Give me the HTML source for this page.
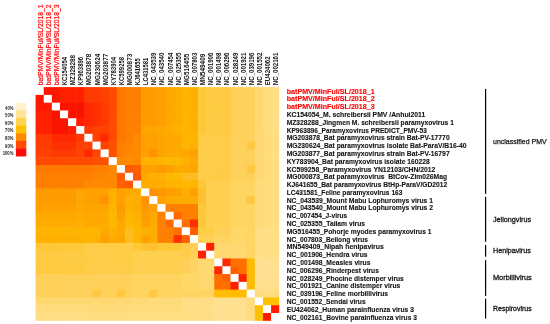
<!DOCTYPE html>
<html><head><meta charset="utf-8"><style>
html,body{margin:0;padding:0;background:#fff;}
body{width:550px;height:324px;overflow:hidden;}
svg{display:block;}
text{font-family:"Liberation Sans",sans-serif;white-space:pre;}
</style></head><body>
<svg width="550" height="324" viewBox="0 0 550 324">
<rect width="550" height="324" fill="#fff"/>

<g>
<rect x="35.60" y="87.10" width="8.72" height="8.39" fill="#FFFFFF"/>
<rect x="43.72" y="87.10" width="8.72" height="8.39" fill="#FF1400"/>
<rect x="51.84" y="87.10" width="8.72" height="8.39" fill="#FF1800"/>
<rect x="59.96" y="87.10" width="8.72" height="8.39" fill="#FF2000"/>
<rect x="68.08" y="87.10" width="8.72" height="8.39" fill="#FF2000"/>
<rect x="76.20" y="87.10" width="8.72" height="8.39" fill="#FF2000"/>
<rect x="84.32" y="87.10" width="8.72" height="8.39" fill="#FF3A00"/>
<rect x="92.44" y="87.10" width="8.72" height="8.39" fill="#FF3C00"/>
<rect x="100.56" y="87.10" width="8.72" height="8.39" fill="#FF4000"/>
<rect x="108.68" y="87.10" width="8.72" height="8.39" fill="#FF4A00"/>
<rect x="116.80" y="87.10" width="8.72" height="8.39" fill="#FF7800"/>
<rect x="124.92" y="87.10" width="8.72" height="8.39" fill="#FF8000"/>
<rect x="133.04" y="87.10" width="8.72" height="8.39" fill="#FF8000"/>
<rect x="141.16" y="87.10" width="8.72" height="8.39" fill="#FF9A00"/>
<rect x="149.28" y="87.10" width="8.72" height="8.39" fill="#FF9C00"/>
<rect x="157.40" y="87.10" width="8.72" height="8.39" fill="#FFA000"/>
<rect x="165.52" y="87.10" width="8.72" height="8.39" fill="#FFA800"/>
<rect x="173.64" y="87.10" width="8.72" height="8.39" fill="#FFAC00"/>
<rect x="181.76" y="87.10" width="8.72" height="8.39" fill="#FFB400"/>
<rect x="189.88" y="87.10" width="8.72" height="8.39" fill="#FFB000"/>
<rect x="198.00" y="87.10" width="8.72" height="8.39" fill="#FFC838"/>
<rect x="206.12" y="87.10" width="8.72" height="8.39" fill="#FFCB42"/>
<rect x="214.24" y="87.10" width="8.72" height="8.39" fill="#FFCB42"/>
<rect x="222.36" y="87.10" width="8.72" height="8.39" fill="#FFCA3E"/>
<rect x="230.48" y="87.10" width="8.72" height="8.39" fill="#FFD058"/>
<rect x="238.60" y="87.10" width="8.72" height="8.39" fill="#FFD05A"/>
<rect x="246.72" y="87.10" width="8.72" height="8.39" fill="#FFD05A"/>
<rect x="254.84" y="87.10" width="8.72" height="8.39" fill="#FFD870"/>
<rect x="262.96" y="87.10" width="8.72" height="8.39" fill="#FFDC7C"/>
<rect x="271.08" y="87.10" width="8.12" height="8.39" fill="#FFDF86"/>
<rect x="35.60" y="94.89" width="8.72" height="8.39" fill="#FF1400"/>
<rect x="43.72" y="94.89" width="8.72" height="8.39" fill="#FFFFFF"/>
<rect x="51.84" y="94.89" width="8.72" height="8.39" fill="#FF1800"/>
<rect x="59.96" y="94.89" width="8.72" height="8.39" fill="#FF2000"/>
<rect x="68.08" y="94.89" width="8.72" height="8.39" fill="#FF2000"/>
<rect x="76.20" y="94.89" width="8.72" height="8.39" fill="#FF2000"/>
<rect x="84.32" y="94.89" width="8.72" height="8.39" fill="#FF3A00"/>
<rect x="92.44" y="94.89" width="8.72" height="8.39" fill="#FF3C00"/>
<rect x="100.56" y="94.89" width="8.72" height="8.39" fill="#FF4000"/>
<rect x="108.68" y="94.89" width="8.72" height="8.39" fill="#FF4A00"/>
<rect x="116.80" y="94.89" width="8.72" height="8.39" fill="#FF7800"/>
<rect x="124.92" y="94.89" width="8.72" height="8.39" fill="#FF8000"/>
<rect x="133.04" y="94.89" width="8.72" height="8.39" fill="#FF8000"/>
<rect x="141.16" y="94.89" width="8.72" height="8.39" fill="#FF9A00"/>
<rect x="149.28" y="94.89" width="8.72" height="8.39" fill="#FF9C00"/>
<rect x="157.40" y="94.89" width="8.72" height="8.39" fill="#FFA000"/>
<rect x="165.52" y="94.89" width="8.72" height="8.39" fill="#FFA800"/>
<rect x="173.64" y="94.89" width="8.72" height="8.39" fill="#FFAC00"/>
<rect x="181.76" y="94.89" width="8.72" height="8.39" fill="#FFB400"/>
<rect x="189.88" y="94.89" width="8.72" height="8.39" fill="#FFB000"/>
<rect x="198.00" y="94.89" width="8.72" height="8.39" fill="#FFC838"/>
<rect x="206.12" y="94.89" width="8.72" height="8.39" fill="#FFCB42"/>
<rect x="214.24" y="94.89" width="8.72" height="8.39" fill="#FFCB42"/>
<rect x="222.36" y="94.89" width="8.72" height="8.39" fill="#FFCA3E"/>
<rect x="230.48" y="94.89" width="8.72" height="8.39" fill="#FFD058"/>
<rect x="238.60" y="94.89" width="8.72" height="8.39" fill="#FFD05A"/>
<rect x="246.72" y="94.89" width="8.72" height="8.39" fill="#FFD05A"/>
<rect x="254.84" y="94.89" width="8.72" height="8.39" fill="#FFD870"/>
<rect x="262.96" y="94.89" width="8.72" height="8.39" fill="#FFDC7C"/>
<rect x="271.08" y="94.89" width="8.12" height="8.39" fill="#FFDF86"/>
<rect x="35.60" y="102.68" width="8.72" height="8.39" fill="#FF1800"/>
<rect x="43.72" y="102.68" width="8.72" height="8.39" fill="#FF1800"/>
<rect x="51.84" y="102.68" width="8.72" height="8.39" fill="#FFFFFF"/>
<rect x="59.96" y="102.68" width="8.72" height="8.39" fill="#FA1400"/>
<rect x="68.08" y="102.68" width="8.72" height="8.39" fill="#FA1400"/>
<rect x="76.20" y="102.68" width="8.72" height="8.39" fill="#FA1400"/>
<rect x="84.32" y="102.68" width="8.72" height="8.39" fill="#FF2800"/>
<rect x="92.44" y="102.68" width="8.72" height="8.39" fill="#FF3000"/>
<rect x="100.56" y="102.68" width="8.72" height="8.39" fill="#FF3A00"/>
<rect x="108.68" y="102.68" width="8.72" height="8.39" fill="#FF4A00"/>
<rect x="116.80" y="102.68" width="8.72" height="8.39" fill="#FF7800"/>
<rect x="124.92" y="102.68" width="8.72" height="8.39" fill="#FF8000"/>
<rect x="133.04" y="102.68" width="8.72" height="8.39" fill="#FF8000"/>
<rect x="141.16" y="102.68" width="8.72" height="8.39" fill="#FF9A00"/>
<rect x="149.28" y="102.68" width="8.72" height="8.39" fill="#FF9C00"/>
<rect x="157.40" y="102.68" width="8.72" height="8.39" fill="#FFA000"/>
<rect x="165.52" y="102.68" width="8.72" height="8.39" fill="#FFA800"/>
<rect x="173.64" y="102.68" width="8.72" height="8.39" fill="#FFAC00"/>
<rect x="181.76" y="102.68" width="8.72" height="8.39" fill="#FFB400"/>
<rect x="189.88" y="102.68" width="8.72" height="8.39" fill="#FFB000"/>
<rect x="198.00" y="102.68" width="8.72" height="8.39" fill="#FFC838"/>
<rect x="206.12" y="102.68" width="8.72" height="8.39" fill="#FFCB42"/>
<rect x="214.24" y="102.68" width="8.72" height="8.39" fill="#FFCB42"/>
<rect x="222.36" y="102.68" width="8.72" height="8.39" fill="#FFCA3E"/>
<rect x="230.48" y="102.68" width="8.72" height="8.39" fill="#FFD058"/>
<rect x="238.60" y="102.68" width="8.72" height="8.39" fill="#FFD05A"/>
<rect x="246.72" y="102.68" width="8.72" height="8.39" fill="#FFD05A"/>
<rect x="254.84" y="102.68" width="8.72" height="8.39" fill="#FFD870"/>
<rect x="262.96" y="102.68" width="8.72" height="8.39" fill="#FFDC7C"/>
<rect x="271.08" y="102.68" width="8.12" height="8.39" fill="#FFDF86"/>
<rect x="35.60" y="110.47" width="8.72" height="8.39" fill="#FF2000"/>
<rect x="43.72" y="110.47" width="8.72" height="8.39" fill="#FF2000"/>
<rect x="51.84" y="110.47" width="8.72" height="8.39" fill="#FA1400"/>
<rect x="59.96" y="110.47" width="8.72" height="8.39" fill="#FFFFFF"/>
<rect x="68.08" y="110.47" width="8.72" height="8.39" fill="#FA1400"/>
<rect x="76.20" y="110.47" width="8.72" height="8.39" fill="#FA1400"/>
<rect x="84.32" y="110.47" width="8.72" height="8.39" fill="#FF2800"/>
<rect x="92.44" y="110.47" width="8.72" height="8.39" fill="#FF3000"/>
<rect x="100.56" y="110.47" width="8.72" height="8.39" fill="#FF3A00"/>
<rect x="108.68" y="110.47" width="8.72" height="8.39" fill="#FF4A00"/>
<rect x="116.80" y="110.47" width="8.72" height="8.39" fill="#FF7800"/>
<rect x="124.92" y="110.47" width="8.72" height="8.39" fill="#FF8000"/>
<rect x="133.04" y="110.47" width="8.72" height="8.39" fill="#FF8000"/>
<rect x="141.16" y="110.47" width="8.72" height="8.39" fill="#FF9A00"/>
<rect x="149.28" y="110.47" width="8.72" height="8.39" fill="#FF9C00"/>
<rect x="157.40" y="110.47" width="8.72" height="8.39" fill="#FFA000"/>
<rect x="165.52" y="110.47" width="8.72" height="8.39" fill="#FFA800"/>
<rect x="173.64" y="110.47" width="8.72" height="8.39" fill="#FFAC00"/>
<rect x="181.76" y="110.47" width="8.72" height="8.39" fill="#FFB400"/>
<rect x="189.88" y="110.47" width="8.72" height="8.39" fill="#FFB000"/>
<rect x="198.00" y="110.47" width="8.72" height="8.39" fill="#FFC838"/>
<rect x="206.12" y="110.47" width="8.72" height="8.39" fill="#FFCB42"/>
<rect x="214.24" y="110.47" width="8.72" height="8.39" fill="#FFCB42"/>
<rect x="222.36" y="110.47" width="8.72" height="8.39" fill="#FFCA3E"/>
<rect x="230.48" y="110.47" width="8.72" height="8.39" fill="#FFD058"/>
<rect x="238.60" y="110.47" width="8.72" height="8.39" fill="#FFD05A"/>
<rect x="246.72" y="110.47" width="8.72" height="8.39" fill="#FFD05A"/>
<rect x="254.84" y="110.47" width="8.72" height="8.39" fill="#FFD870"/>
<rect x="262.96" y="110.47" width="8.72" height="8.39" fill="#FFDC7C"/>
<rect x="271.08" y="110.47" width="8.12" height="8.39" fill="#FFDF86"/>
<rect x="35.60" y="118.26" width="8.72" height="8.39" fill="#FF2000"/>
<rect x="43.72" y="118.26" width="8.72" height="8.39" fill="#FF2000"/>
<rect x="51.84" y="118.26" width="8.72" height="8.39" fill="#FA1400"/>
<rect x="59.96" y="118.26" width="8.72" height="8.39" fill="#FA1400"/>
<rect x="68.08" y="118.26" width="8.72" height="8.39" fill="#FFFFFF"/>
<rect x="76.20" y="118.26" width="8.72" height="8.39" fill="#FF1C00"/>
<rect x="84.32" y="118.26" width="8.72" height="8.39" fill="#FF2800"/>
<rect x="92.44" y="118.26" width="8.72" height="8.39" fill="#FF3000"/>
<rect x="100.56" y="118.26" width="8.72" height="8.39" fill="#FF3A00"/>
<rect x="108.68" y="118.26" width="8.72" height="8.39" fill="#FF4A00"/>
<rect x="116.80" y="118.26" width="8.72" height="8.39" fill="#FF7800"/>
<rect x="124.92" y="118.26" width="8.72" height="8.39" fill="#FF8000"/>
<rect x="133.04" y="118.26" width="8.72" height="8.39" fill="#FF8000"/>
<rect x="141.16" y="118.26" width="8.72" height="8.39" fill="#FF9A00"/>
<rect x="149.28" y="118.26" width="8.72" height="8.39" fill="#FF9C00"/>
<rect x="157.40" y="118.26" width="8.72" height="8.39" fill="#FFA000"/>
<rect x="165.52" y="118.26" width="8.72" height="8.39" fill="#FFA800"/>
<rect x="173.64" y="118.26" width="8.72" height="8.39" fill="#FFAC00"/>
<rect x="181.76" y="118.26" width="8.72" height="8.39" fill="#FFB400"/>
<rect x="189.88" y="118.26" width="8.72" height="8.39" fill="#FFB000"/>
<rect x="198.00" y="118.26" width="8.72" height="8.39" fill="#FFC838"/>
<rect x="206.12" y="118.26" width="8.72" height="8.39" fill="#FFCB42"/>
<rect x="214.24" y="118.26" width="8.72" height="8.39" fill="#FFCB42"/>
<rect x="222.36" y="118.26" width="8.72" height="8.39" fill="#FFCA3E"/>
<rect x="230.48" y="118.26" width="8.72" height="8.39" fill="#FFD058"/>
<rect x="238.60" y="118.26" width="8.72" height="8.39" fill="#FFD05A"/>
<rect x="246.72" y="118.26" width="8.72" height="8.39" fill="#FFD05A"/>
<rect x="254.84" y="118.26" width="8.72" height="8.39" fill="#FFD870"/>
<rect x="262.96" y="118.26" width="8.72" height="8.39" fill="#FFDC7C"/>
<rect x="271.08" y="118.26" width="8.12" height="8.39" fill="#FFDF86"/>
<rect x="35.60" y="126.05" width="8.72" height="8.39" fill="#FF2000"/>
<rect x="43.72" y="126.05" width="8.72" height="8.39" fill="#FF2000"/>
<rect x="51.84" y="126.05" width="8.72" height="8.39" fill="#FA1400"/>
<rect x="59.96" y="126.05" width="8.72" height="8.39" fill="#FA1400"/>
<rect x="68.08" y="126.05" width="8.72" height="8.39" fill="#FF1C00"/>
<rect x="76.20" y="126.05" width="8.72" height="8.39" fill="#FFFFFF"/>
<rect x="84.32" y="126.05" width="8.72" height="8.39" fill="#FF3800"/>
<rect x="92.44" y="126.05" width="8.72" height="8.39" fill="#FF4000"/>
<rect x="100.56" y="126.05" width="8.72" height="8.39" fill="#FF4200"/>
<rect x="108.68" y="126.05" width="8.72" height="8.39" fill="#FF4A00"/>
<rect x="116.80" y="126.05" width="8.72" height="8.39" fill="#FF7800"/>
<rect x="124.92" y="126.05" width="8.72" height="8.39" fill="#FF8000"/>
<rect x="133.04" y="126.05" width="8.72" height="8.39" fill="#FF8000"/>
<rect x="141.16" y="126.05" width="8.72" height="8.39" fill="#FFA500"/>
<rect x="149.28" y="126.05" width="8.72" height="8.39" fill="#FFA500"/>
<rect x="157.40" y="126.05" width="8.72" height="8.39" fill="#FFA800"/>
<rect x="165.52" y="126.05" width="8.72" height="8.39" fill="#FFAC00"/>
<rect x="173.64" y="126.05" width="8.72" height="8.39" fill="#FFB000"/>
<rect x="181.76" y="126.05" width="8.72" height="8.39" fill="#FFB400"/>
<rect x="189.88" y="126.05" width="8.72" height="8.39" fill="#FFB000"/>
<rect x="198.00" y="126.05" width="8.72" height="8.39" fill="#FFC838"/>
<rect x="206.12" y="126.05" width="8.72" height="8.39" fill="#FFCB42"/>
<rect x="214.24" y="126.05" width="8.72" height="8.39" fill="#FFCB42"/>
<rect x="222.36" y="126.05" width="8.72" height="8.39" fill="#FFCA3E"/>
<rect x="230.48" y="126.05" width="8.72" height="8.39" fill="#FFD058"/>
<rect x="238.60" y="126.05" width="8.72" height="8.39" fill="#FFD05A"/>
<rect x="246.72" y="126.05" width="8.72" height="8.39" fill="#FFD05A"/>
<rect x="254.84" y="126.05" width="8.72" height="8.39" fill="#FFD870"/>
<rect x="262.96" y="126.05" width="8.72" height="8.39" fill="#FFDC7C"/>
<rect x="271.08" y="126.05" width="8.12" height="8.39" fill="#FFDF86"/>
<rect x="35.60" y="133.84" width="8.72" height="8.39" fill="#FF3A00"/>
<rect x="43.72" y="133.84" width="8.72" height="8.39" fill="#FF3A00"/>
<rect x="51.84" y="133.84" width="8.72" height="8.39" fill="#FF2800"/>
<rect x="59.96" y="133.84" width="8.72" height="8.39" fill="#FF2800"/>
<rect x="68.08" y="133.84" width="8.72" height="8.39" fill="#FF2800"/>
<rect x="76.20" y="133.84" width="8.72" height="8.39" fill="#FF3800"/>
<rect x="84.32" y="133.84" width="8.72" height="8.39" fill="#FFFFFF"/>
<rect x="92.44" y="133.84" width="8.72" height="8.39" fill="#FF4000"/>
<rect x="100.56" y="133.84" width="8.72" height="8.39" fill="#FF2800"/>
<rect x="108.68" y="133.84" width="8.72" height="8.39" fill="#FF4A00"/>
<rect x="116.80" y="133.84" width="8.72" height="8.39" fill="#FF7800"/>
<rect x="124.92" y="133.84" width="8.72" height="8.39" fill="#FF8000"/>
<rect x="133.04" y="133.84" width="8.72" height="8.39" fill="#FF8A00"/>
<rect x="141.16" y="133.84" width="8.72" height="8.39" fill="#FFA000"/>
<rect x="149.28" y="133.84" width="8.72" height="8.39" fill="#FFA000"/>
<rect x="157.40" y="133.84" width="8.72" height="8.39" fill="#FFA500"/>
<rect x="165.52" y="133.84" width="8.72" height="8.39" fill="#FFA800"/>
<rect x="173.64" y="133.84" width="8.72" height="8.39" fill="#FFAA00"/>
<rect x="181.76" y="133.84" width="8.72" height="8.39" fill="#FFB400"/>
<rect x="189.88" y="133.84" width="8.72" height="8.39" fill="#FFB400"/>
<rect x="198.00" y="133.84" width="8.72" height="8.39" fill="#FFCC48"/>
<rect x="206.12" y="133.84" width="8.72" height="8.39" fill="#FFCC48"/>
<rect x="214.24" y="133.84" width="8.72" height="8.39" fill="#FFCC48"/>
<rect x="222.36" y="133.84" width="8.72" height="8.39" fill="#FFCC48"/>
<rect x="230.48" y="133.84" width="8.72" height="8.39" fill="#FFD05A"/>
<rect x="238.60" y="133.84" width="8.72" height="8.39" fill="#FFD05A"/>
<rect x="246.72" y="133.84" width="8.72" height="8.39" fill="#FFD05A"/>
<rect x="254.84" y="133.84" width="8.72" height="8.39" fill="#FFD874"/>
<rect x="262.96" y="133.84" width="8.72" height="8.39" fill="#FFDB7A"/>
<rect x="271.08" y="133.84" width="8.12" height="8.39" fill="#FFDE82"/>
<rect x="35.60" y="141.63" width="8.72" height="8.39" fill="#FF3C00"/>
<rect x="43.72" y="141.63" width="8.72" height="8.39" fill="#FF3C00"/>
<rect x="51.84" y="141.63" width="8.72" height="8.39" fill="#FF3000"/>
<rect x="59.96" y="141.63" width="8.72" height="8.39" fill="#FF3000"/>
<rect x="68.08" y="141.63" width="8.72" height="8.39" fill="#FF3000"/>
<rect x="76.20" y="141.63" width="8.72" height="8.39" fill="#FF4000"/>
<rect x="84.32" y="141.63" width="8.72" height="8.39" fill="#FF4000"/>
<rect x="92.44" y="141.63" width="8.72" height="8.39" fill="#FFFFFF"/>
<rect x="100.56" y="141.63" width="8.72" height="8.39" fill="#FF4400"/>
<rect x="108.68" y="141.63" width="8.72" height="8.39" fill="#FF5000"/>
<rect x="116.80" y="141.63" width="8.72" height="8.39" fill="#FF8000"/>
<rect x="124.92" y="141.63" width="8.72" height="8.39" fill="#FF8500"/>
<rect x="133.04" y="141.63" width="8.72" height="8.39" fill="#FF8A00"/>
<rect x="141.16" y="141.63" width="8.72" height="8.39" fill="#FFA000"/>
<rect x="149.28" y="141.63" width="8.72" height="8.39" fill="#FFA000"/>
<rect x="157.40" y="141.63" width="8.72" height="8.39" fill="#FFA500"/>
<rect x="165.52" y="141.63" width="8.72" height="8.39" fill="#FFA800"/>
<rect x="173.64" y="141.63" width="8.72" height="8.39" fill="#FFAA00"/>
<rect x="181.76" y="141.63" width="8.72" height="8.39" fill="#FFB400"/>
<rect x="189.88" y="141.63" width="8.72" height="8.39" fill="#FFB000"/>
<rect x="198.00" y="141.63" width="8.72" height="8.39" fill="#FFCC48"/>
<rect x="206.12" y="141.63" width="8.72" height="8.39" fill="#FFCC48"/>
<rect x="214.24" y="141.63" width="8.72" height="8.39" fill="#FFCC48"/>
<rect x="222.36" y="141.63" width="8.72" height="8.39" fill="#FFCC48"/>
<rect x="230.48" y="141.63" width="8.72" height="8.39" fill="#FFD05A"/>
<rect x="238.60" y="141.63" width="8.72" height="8.39" fill="#FFD05A"/>
<rect x="246.72" y="141.63" width="8.72" height="8.39" fill="#FFC840"/>
<rect x="254.84" y="141.63" width="8.72" height="8.39" fill="#FFD874"/>
<rect x="262.96" y="141.63" width="8.72" height="8.39" fill="#FFDB7A"/>
<rect x="271.08" y="141.63" width="8.12" height="8.39" fill="#FFDE82"/>
<rect x="35.60" y="149.42" width="8.72" height="8.39" fill="#FF4000"/>
<rect x="43.72" y="149.42" width="8.72" height="8.39" fill="#FF4000"/>
<rect x="51.84" y="149.42" width="8.72" height="8.39" fill="#FF3A00"/>
<rect x="59.96" y="149.42" width="8.72" height="8.39" fill="#FF3A00"/>
<rect x="68.08" y="149.42" width="8.72" height="8.39" fill="#FF3A00"/>
<rect x="76.20" y="149.42" width="8.72" height="8.39" fill="#FF4200"/>
<rect x="84.32" y="149.42" width="8.72" height="8.39" fill="#FF2800"/>
<rect x="92.44" y="149.42" width="8.72" height="8.39" fill="#FF4400"/>
<rect x="100.56" y="149.42" width="8.72" height="8.39" fill="#FFFFFF"/>
<rect x="108.68" y="149.42" width="8.72" height="8.39" fill="#FF5000"/>
<rect x="116.80" y="149.42" width="8.72" height="8.39" fill="#FF8000"/>
<rect x="124.92" y="149.42" width="8.72" height="8.39" fill="#FF8800"/>
<rect x="133.04" y="149.42" width="8.72" height="8.39" fill="#FF8A00"/>
<rect x="141.16" y="149.42" width="8.72" height="8.39" fill="#FFA000"/>
<rect x="149.28" y="149.42" width="8.72" height="8.39" fill="#FF9000"/>
<rect x="157.40" y="149.42" width="8.72" height="8.39" fill="#FFA500"/>
<rect x="165.52" y="149.42" width="8.72" height="8.39" fill="#FFA800"/>
<rect x="173.64" y="149.42" width="8.72" height="8.39" fill="#FFAA00"/>
<rect x="181.76" y="149.42" width="8.72" height="8.39" fill="#FFA800"/>
<rect x="189.88" y="149.42" width="8.72" height="8.39" fill="#FFA000"/>
<rect x="198.00" y="149.42" width="8.72" height="8.39" fill="#FFCC48"/>
<rect x="206.12" y="149.42" width="8.72" height="8.39" fill="#FFCC48"/>
<rect x="214.24" y="149.42" width="8.72" height="8.39" fill="#FFCC48"/>
<rect x="222.36" y="149.42" width="8.72" height="8.39" fill="#FFCC48"/>
<rect x="230.48" y="149.42" width="8.72" height="8.39" fill="#FFD05A"/>
<rect x="238.60" y="149.42" width="8.72" height="8.39" fill="#FFD05A"/>
<rect x="246.72" y="149.42" width="8.72" height="8.39" fill="#FFD05A"/>
<rect x="254.84" y="149.42" width="8.72" height="8.39" fill="#FFD874"/>
<rect x="262.96" y="149.42" width="8.72" height="8.39" fill="#FFDB7A"/>
<rect x="271.08" y="149.42" width="8.12" height="8.39" fill="#FFDE82"/>
<rect x="35.60" y="157.21" width="8.72" height="8.39" fill="#FF4A00"/>
<rect x="43.72" y="157.21" width="8.72" height="8.39" fill="#FF4A00"/>
<rect x="51.84" y="157.21" width="8.72" height="8.39" fill="#FF4A00"/>
<rect x="59.96" y="157.21" width="8.72" height="8.39" fill="#FF4A00"/>
<rect x="68.08" y="157.21" width="8.72" height="8.39" fill="#FF4A00"/>
<rect x="76.20" y="157.21" width="8.72" height="8.39" fill="#FF4A00"/>
<rect x="84.32" y="157.21" width="8.72" height="8.39" fill="#FF4A00"/>
<rect x="92.44" y="157.21" width="8.72" height="8.39" fill="#FF5000"/>
<rect x="100.56" y="157.21" width="8.72" height="8.39" fill="#FF5000"/>
<rect x="108.68" y="157.21" width="8.72" height="8.39" fill="#FFFFFF"/>
<rect x="116.80" y="157.21" width="8.72" height="8.39" fill="#FF8800"/>
<rect x="124.92" y="157.21" width="8.72" height="8.39" fill="#FF8C00"/>
<rect x="133.04" y="157.21" width="8.72" height="8.39" fill="#FF8A00"/>
<rect x="141.16" y="157.21" width="8.72" height="8.39" fill="#FFB000"/>
<rect x="149.28" y="157.21" width="8.72" height="8.39" fill="#FFB000"/>
<rect x="157.40" y="157.21" width="8.72" height="8.39" fill="#FFB500"/>
<rect x="165.52" y="157.21" width="8.72" height="8.39" fill="#FFB800"/>
<rect x="173.64" y="157.21" width="8.72" height="8.39" fill="#FFB800"/>
<rect x="181.76" y="157.21" width="8.72" height="8.39" fill="#FFB000"/>
<rect x="189.88" y="157.21" width="8.72" height="8.39" fill="#FFAA00"/>
<rect x="198.00" y="157.21" width="8.72" height="8.39" fill="#FFCC48"/>
<rect x="206.12" y="157.21" width="8.72" height="8.39" fill="#FFCC48"/>
<rect x="214.24" y="157.21" width="8.72" height="8.39" fill="#FFCC48"/>
<rect x="222.36" y="157.21" width="8.72" height="8.39" fill="#FFCC48"/>
<rect x="230.48" y="157.21" width="8.72" height="8.39" fill="#FFD05A"/>
<rect x="238.60" y="157.21" width="8.72" height="8.39" fill="#FFD05A"/>
<rect x="246.72" y="157.21" width="8.72" height="8.39" fill="#FFD05A"/>
<rect x="254.84" y="157.21" width="8.72" height="8.39" fill="#FFD874"/>
<rect x="262.96" y="157.21" width="8.72" height="8.39" fill="#FFDB7A"/>
<rect x="271.08" y="157.21" width="8.12" height="8.39" fill="#FFDE82"/>
<rect x="35.60" y="165.00" width="8.72" height="8.39" fill="#FF7800"/>
<rect x="43.72" y="165.00" width="8.72" height="8.39" fill="#FF7800"/>
<rect x="51.84" y="165.00" width="8.72" height="8.39" fill="#FF7800"/>
<rect x="59.96" y="165.00" width="8.72" height="8.39" fill="#FF7800"/>
<rect x="68.08" y="165.00" width="8.72" height="8.39" fill="#FF7800"/>
<rect x="76.20" y="165.00" width="8.72" height="8.39" fill="#FF7800"/>
<rect x="84.32" y="165.00" width="8.72" height="8.39" fill="#FF7800"/>
<rect x="92.44" y="165.00" width="8.72" height="8.39" fill="#FF8000"/>
<rect x="100.56" y="165.00" width="8.72" height="8.39" fill="#FF8000"/>
<rect x="108.68" y="165.00" width="8.72" height="8.39" fill="#FF8800"/>
<rect x="116.80" y="165.00" width="8.72" height="8.39" fill="#FFFFFF"/>
<rect x="124.92" y="165.00" width="8.72" height="8.39" fill="#FF5A00"/>
<rect x="133.04" y="165.00" width="8.72" height="8.39" fill="#FF6000"/>
<rect x="141.16" y="165.00" width="8.72" height="8.39" fill="#FFA000"/>
<rect x="149.28" y="165.00" width="8.72" height="8.39" fill="#FFA000"/>
<rect x="157.40" y="165.00" width="8.72" height="8.39" fill="#FF9A00"/>
<rect x="165.52" y="165.00" width="8.72" height="8.39" fill="#FFA000"/>
<rect x="173.64" y="165.00" width="8.72" height="8.39" fill="#FFA800"/>
<rect x="181.76" y="165.00" width="8.72" height="8.39" fill="#FFAA00"/>
<rect x="189.88" y="165.00" width="8.72" height="8.39" fill="#FFA500"/>
<rect x="198.00" y="165.00" width="8.72" height="8.39" fill="#FFCC48"/>
<rect x="206.12" y="165.00" width="8.72" height="8.39" fill="#FFCC48"/>
<rect x="214.24" y="165.00" width="8.72" height="8.39" fill="#FFCC48"/>
<rect x="222.36" y="165.00" width="8.72" height="8.39" fill="#FFCC48"/>
<rect x="230.48" y="165.00" width="8.72" height="8.39" fill="#FFD05A"/>
<rect x="238.60" y="165.00" width="8.72" height="8.39" fill="#FFD05A"/>
<rect x="246.72" y="165.00" width="8.72" height="8.39" fill="#FFC840"/>
<rect x="254.84" y="165.00" width="8.72" height="8.39" fill="#FFD874"/>
<rect x="262.96" y="165.00" width="8.72" height="8.39" fill="#FFDB7A"/>
<rect x="271.08" y="165.00" width="8.12" height="8.39" fill="#FFDE82"/>
<rect x="35.60" y="172.79" width="8.72" height="8.39" fill="#FF8000"/>
<rect x="43.72" y="172.79" width="8.72" height="8.39" fill="#FF8000"/>
<rect x="51.84" y="172.79" width="8.72" height="8.39" fill="#FF8000"/>
<rect x="59.96" y="172.79" width="8.72" height="8.39" fill="#FF8000"/>
<rect x="68.08" y="172.79" width="8.72" height="8.39" fill="#FF8000"/>
<rect x="76.20" y="172.79" width="8.72" height="8.39" fill="#FF8000"/>
<rect x="84.32" y="172.79" width="8.72" height="8.39" fill="#FF8000"/>
<rect x="92.44" y="172.79" width="8.72" height="8.39" fill="#FF8500"/>
<rect x="100.56" y="172.79" width="8.72" height="8.39" fill="#FF8800"/>
<rect x="108.68" y="172.79" width="8.72" height="8.39" fill="#FF8C00"/>
<rect x="116.80" y="172.79" width="8.72" height="8.39" fill="#FF5A00"/>
<rect x="124.92" y="172.79" width="8.72" height="8.39" fill="#FFFFFF"/>
<rect x="133.04" y="172.79" width="8.72" height="8.39" fill="#FF5800"/>
<rect x="141.16" y="172.79" width="8.72" height="8.39" fill="#FFA800"/>
<rect x="149.28" y="172.79" width="8.72" height="8.39" fill="#FFB000"/>
<rect x="157.40" y="172.79" width="8.72" height="8.39" fill="#FFB000"/>
<rect x="165.52" y="172.79" width="8.72" height="8.39" fill="#FFB800"/>
<rect x="173.64" y="172.79" width="8.72" height="8.39" fill="#FFBA00"/>
<rect x="181.76" y="172.79" width="8.72" height="8.39" fill="#FFBC20"/>
<rect x="189.88" y="172.79" width="8.72" height="8.39" fill="#FFBC20"/>
<rect x="198.00" y="172.79" width="8.72" height="8.39" fill="#FFCC48"/>
<rect x="206.12" y="172.79" width="8.72" height="8.39" fill="#FFCC48"/>
<rect x="214.24" y="172.79" width="8.72" height="8.39" fill="#FFCC48"/>
<rect x="222.36" y="172.79" width="8.72" height="8.39" fill="#FFCC48"/>
<rect x="230.48" y="172.79" width="8.72" height="8.39" fill="#FFD05A"/>
<rect x="238.60" y="172.79" width="8.72" height="8.39" fill="#FFD05A"/>
<rect x="246.72" y="172.79" width="8.72" height="8.39" fill="#FFD05A"/>
<rect x="254.84" y="172.79" width="8.72" height="8.39" fill="#FFD874"/>
<rect x="262.96" y="172.79" width="8.72" height="8.39" fill="#FFDB7A"/>
<rect x="271.08" y="172.79" width="8.12" height="8.39" fill="#FFDE82"/>
<rect x="35.60" y="180.58" width="8.72" height="8.39" fill="#FF8000"/>
<rect x="43.72" y="180.58" width="8.72" height="8.39" fill="#FF8000"/>
<rect x="51.84" y="180.58" width="8.72" height="8.39" fill="#FF8000"/>
<rect x="59.96" y="180.58" width="8.72" height="8.39" fill="#FF8000"/>
<rect x="68.08" y="180.58" width="8.72" height="8.39" fill="#FF8000"/>
<rect x="76.20" y="180.58" width="8.72" height="8.39" fill="#FF8000"/>
<rect x="84.32" y="180.58" width="8.72" height="8.39" fill="#FF8A00"/>
<rect x="92.44" y="180.58" width="8.72" height="8.39" fill="#FF8A00"/>
<rect x="100.56" y="180.58" width="8.72" height="8.39" fill="#FF8A00"/>
<rect x="108.68" y="180.58" width="8.72" height="8.39" fill="#FF8A00"/>
<rect x="116.80" y="180.58" width="8.72" height="8.39" fill="#FF6000"/>
<rect x="124.92" y="180.58" width="8.72" height="8.39" fill="#FF5800"/>
<rect x="133.04" y="180.58" width="8.72" height="8.39" fill="#FFFFFF"/>
<rect x="141.16" y="180.58" width="8.72" height="8.39" fill="#FFAC00"/>
<rect x="149.28" y="180.58" width="8.72" height="8.39" fill="#FFAC00"/>
<rect x="157.40" y="180.58" width="8.72" height="8.39" fill="#FFAC00"/>
<rect x="165.52" y="180.58" width="8.72" height="8.39" fill="#FFB000"/>
<rect x="173.64" y="180.58" width="8.72" height="8.39" fill="#FFB400"/>
<rect x="181.76" y="180.58" width="8.72" height="8.39" fill="#FFB800"/>
<rect x="189.88" y="180.58" width="8.72" height="8.39" fill="#FFB400"/>
<rect x="198.00" y="180.58" width="8.72" height="8.39" fill="#FFC838"/>
<rect x="206.12" y="180.58" width="8.72" height="8.39" fill="#FFD050"/>
<rect x="214.24" y="180.58" width="8.72" height="8.39" fill="#FFD050"/>
<rect x="222.36" y="180.58" width="8.72" height="8.39" fill="#FFD050"/>
<rect x="230.48" y="180.58" width="8.72" height="8.39" fill="#FFD460"/>
<rect x="238.60" y="180.58" width="8.72" height="8.39" fill="#FFD460"/>
<rect x="246.72" y="180.58" width="8.72" height="8.39" fill="#FFD460"/>
<rect x="254.84" y="180.58" width="8.72" height="8.39" fill="#FFDA78"/>
<rect x="262.96" y="180.58" width="8.72" height="8.39" fill="#FFDC7C"/>
<rect x="271.08" y="180.58" width="8.12" height="8.39" fill="#FFDE82"/>
<rect x="35.60" y="188.37" width="8.72" height="8.39" fill="#FF9A00"/>
<rect x="43.72" y="188.37" width="8.72" height="8.39" fill="#FF9A00"/>
<rect x="51.84" y="188.37" width="8.72" height="8.39" fill="#FF9A00"/>
<rect x="59.96" y="188.37" width="8.72" height="8.39" fill="#FF9A00"/>
<rect x="68.08" y="188.37" width="8.72" height="8.39" fill="#FF9A00"/>
<rect x="76.20" y="188.37" width="8.72" height="8.39" fill="#FFA500"/>
<rect x="84.32" y="188.37" width="8.72" height="8.39" fill="#FFA000"/>
<rect x="92.44" y="188.37" width="8.72" height="8.39" fill="#FFA000"/>
<rect x="100.56" y="188.37" width="8.72" height="8.39" fill="#FFA000"/>
<rect x="108.68" y="188.37" width="8.72" height="8.39" fill="#FFB000"/>
<rect x="116.80" y="188.37" width="8.72" height="8.39" fill="#FFA000"/>
<rect x="124.92" y="188.37" width="8.72" height="8.39" fill="#FFA800"/>
<rect x="133.04" y="188.37" width="8.72" height="8.39" fill="#FFAC00"/>
<rect x="141.16" y="188.37" width="8.72" height="8.39" fill="#FFFFFF"/>
<rect x="149.28" y="188.37" width="8.72" height="8.39" fill="#FF9000"/>
<rect x="157.40" y="188.37" width="8.72" height="8.39" fill="#FF9800"/>
<rect x="165.52" y="188.37" width="8.72" height="8.39" fill="#FF9C00"/>
<rect x="173.64" y="188.37" width="8.72" height="8.39" fill="#FFA000"/>
<rect x="181.76" y="188.37" width="8.72" height="8.39" fill="#FFB000"/>
<rect x="189.88" y="188.37" width="8.72" height="8.39" fill="#FFA000"/>
<rect x="198.00" y="188.37" width="8.72" height="8.39" fill="#FFC030"/>
<rect x="206.12" y="188.37" width="8.72" height="8.39" fill="#FFD050"/>
<rect x="214.24" y="188.37" width="8.72" height="8.39" fill="#FFD050"/>
<rect x="222.36" y="188.37" width="8.72" height="8.39" fill="#FFD050"/>
<rect x="230.48" y="188.37" width="8.72" height="8.39" fill="#FFD460"/>
<rect x="238.60" y="188.37" width="8.72" height="8.39" fill="#FFD460"/>
<rect x="246.72" y="188.37" width="8.72" height="8.39" fill="#FFD460"/>
<rect x="254.84" y="188.37" width="8.72" height="8.39" fill="#FFDA78"/>
<rect x="262.96" y="188.37" width="8.72" height="8.39" fill="#FFDC7C"/>
<rect x="271.08" y="188.37" width="8.12" height="8.39" fill="#FFDE82"/>
<rect x="35.60" y="196.16" width="8.72" height="8.39" fill="#FF9C00"/>
<rect x="43.72" y="196.16" width="8.72" height="8.39" fill="#FF9C00"/>
<rect x="51.84" y="196.16" width="8.72" height="8.39" fill="#FF9C00"/>
<rect x="59.96" y="196.16" width="8.72" height="8.39" fill="#FF9C00"/>
<rect x="68.08" y="196.16" width="8.72" height="8.39" fill="#FF9C00"/>
<rect x="76.20" y="196.16" width="8.72" height="8.39" fill="#FFA500"/>
<rect x="84.32" y="196.16" width="8.72" height="8.39" fill="#FFA000"/>
<rect x="92.44" y="196.16" width="8.72" height="8.39" fill="#FFA000"/>
<rect x="100.56" y="196.16" width="8.72" height="8.39" fill="#FF9000"/>
<rect x="108.68" y="196.16" width="8.72" height="8.39" fill="#FFB000"/>
<rect x="116.80" y="196.16" width="8.72" height="8.39" fill="#FFA000"/>
<rect x="124.92" y="196.16" width="8.72" height="8.39" fill="#FFB000"/>
<rect x="133.04" y="196.16" width="8.72" height="8.39" fill="#FFAC00"/>
<rect x="141.16" y="196.16" width="8.72" height="8.39" fill="#FF9000"/>
<rect x="149.28" y="196.16" width="8.72" height="8.39" fill="#FFFFFF"/>
<rect x="157.40" y="196.16" width="8.72" height="8.39" fill="#FFA000"/>
<rect x="165.52" y="196.16" width="8.72" height="8.39" fill="#FFA800"/>
<rect x="173.64" y="196.16" width="8.72" height="8.39" fill="#FFAC00"/>
<rect x="181.76" y="196.16" width="8.72" height="8.39" fill="#FFAC00"/>
<rect x="189.88" y="196.16" width="8.72" height="8.39" fill="#FFAC00"/>
<rect x="198.00" y="196.16" width="8.72" height="8.39" fill="#FFC030"/>
<rect x="206.12" y="196.16" width="8.72" height="8.39" fill="#FFD050"/>
<rect x="214.24" y="196.16" width="8.72" height="8.39" fill="#FFD050"/>
<rect x="222.36" y="196.16" width="8.72" height="8.39" fill="#FFD050"/>
<rect x="230.48" y="196.16" width="8.72" height="8.39" fill="#FFD460"/>
<rect x="238.60" y="196.16" width="8.72" height="8.39" fill="#FFD460"/>
<rect x="246.72" y="196.16" width="8.72" height="8.39" fill="#FFC840"/>
<rect x="254.84" y="196.16" width="8.72" height="8.39" fill="#FFDA78"/>
<rect x="262.96" y="196.16" width="8.72" height="8.39" fill="#FFDC7C"/>
<rect x="271.08" y="196.16" width="8.12" height="8.39" fill="#FFDE82"/>
<rect x="35.60" y="203.95" width="8.72" height="8.39" fill="#FFA000"/>
<rect x="43.72" y="203.95" width="8.72" height="8.39" fill="#FFA000"/>
<rect x="51.84" y="203.95" width="8.72" height="8.39" fill="#FFA000"/>
<rect x="59.96" y="203.95" width="8.72" height="8.39" fill="#FFA000"/>
<rect x="68.08" y="203.95" width="8.72" height="8.39" fill="#FFA000"/>
<rect x="76.20" y="203.95" width="8.72" height="8.39" fill="#FFA800"/>
<rect x="84.32" y="203.95" width="8.72" height="8.39" fill="#FFA500"/>
<rect x="92.44" y="203.95" width="8.72" height="8.39" fill="#FFA500"/>
<rect x="100.56" y="203.95" width="8.72" height="8.39" fill="#FFA500"/>
<rect x="108.68" y="203.95" width="8.72" height="8.39" fill="#FFB500"/>
<rect x="116.80" y="203.95" width="8.72" height="8.39" fill="#FF9A00"/>
<rect x="124.92" y="203.95" width="8.72" height="8.39" fill="#FFB000"/>
<rect x="133.04" y="203.95" width="8.72" height="8.39" fill="#FFAC00"/>
<rect x="141.16" y="203.95" width="8.72" height="8.39" fill="#FF9800"/>
<rect x="149.28" y="203.95" width="8.72" height="8.39" fill="#FFA000"/>
<rect x="157.40" y="203.95" width="8.72" height="8.39" fill="#FFFFFF"/>
<rect x="165.52" y="203.95" width="8.72" height="8.39" fill="#FF8000"/>
<rect x="173.64" y="203.95" width="8.72" height="8.39" fill="#FF8000"/>
<rect x="181.76" y="203.95" width="8.72" height="8.39" fill="#FF8000"/>
<rect x="189.88" y="203.95" width="8.72" height="8.39" fill="#FF8000"/>
<rect x="198.00" y="203.95" width="8.72" height="8.39" fill="#FFC838"/>
<rect x="206.12" y="203.95" width="8.72" height="8.39" fill="#FFD050"/>
<rect x="214.24" y="203.95" width="8.72" height="8.39" fill="#FFD050"/>
<rect x="222.36" y="203.95" width="8.72" height="8.39" fill="#FFD050"/>
<rect x="230.48" y="203.95" width="8.72" height="8.39" fill="#FFD460"/>
<rect x="238.60" y="203.95" width="8.72" height="8.39" fill="#FFD460"/>
<rect x="246.72" y="203.95" width="8.72" height="8.39" fill="#FFD460"/>
<rect x="254.84" y="203.95" width="8.72" height="8.39" fill="#FFDA78"/>
<rect x="262.96" y="203.95" width="8.72" height="8.39" fill="#FFDC7C"/>
<rect x="271.08" y="203.95" width="8.12" height="8.39" fill="#FFDE82"/>
<rect x="35.60" y="211.74" width="8.72" height="8.39" fill="#FFA800"/>
<rect x="43.72" y="211.74" width="8.72" height="8.39" fill="#FFA800"/>
<rect x="51.84" y="211.74" width="8.72" height="8.39" fill="#FFA800"/>
<rect x="59.96" y="211.74" width="8.72" height="8.39" fill="#FFA800"/>
<rect x="68.08" y="211.74" width="8.72" height="8.39" fill="#FFA800"/>
<rect x="76.20" y="211.74" width="8.72" height="8.39" fill="#FFAC00"/>
<rect x="84.32" y="211.74" width="8.72" height="8.39" fill="#FFA800"/>
<rect x="92.44" y="211.74" width="8.72" height="8.39" fill="#FFA800"/>
<rect x="100.56" y="211.74" width="8.72" height="8.39" fill="#FFA800"/>
<rect x="108.68" y="211.74" width="8.72" height="8.39" fill="#FFB800"/>
<rect x="116.80" y="211.74" width="8.72" height="8.39" fill="#FFA000"/>
<rect x="124.92" y="211.74" width="8.72" height="8.39" fill="#FFB800"/>
<rect x="133.04" y="211.74" width="8.72" height="8.39" fill="#FFB000"/>
<rect x="141.16" y="211.74" width="8.72" height="8.39" fill="#FF9C00"/>
<rect x="149.28" y="211.74" width="8.72" height="8.39" fill="#FFA800"/>
<rect x="157.40" y="211.74" width="8.72" height="8.39" fill="#FF8000"/>
<rect x="165.52" y="211.74" width="8.72" height="8.39" fill="#FFFFFF"/>
<rect x="173.64" y="211.74" width="8.72" height="8.39" fill="#FF6A00"/>
<rect x="181.76" y="211.74" width="8.72" height="8.39" fill="#FF8000"/>
<rect x="189.88" y="211.74" width="8.72" height="8.39" fill="#FF8000"/>
<rect x="198.00" y="211.74" width="8.72" height="8.39" fill="#FFC838"/>
<rect x="206.12" y="211.74" width="8.72" height="8.39" fill="#FFD050"/>
<rect x="214.24" y="211.74" width="8.72" height="8.39" fill="#FFD050"/>
<rect x="222.36" y="211.74" width="8.72" height="8.39" fill="#FFD050"/>
<rect x="230.48" y="211.74" width="8.72" height="8.39" fill="#FFD460"/>
<rect x="238.60" y="211.74" width="8.72" height="8.39" fill="#FFD460"/>
<rect x="246.72" y="211.74" width="8.72" height="8.39" fill="#FFD460"/>
<rect x="254.84" y="211.74" width="8.72" height="8.39" fill="#FFDA78"/>
<rect x="262.96" y="211.74" width="8.72" height="8.39" fill="#FFDC7C"/>
<rect x="271.08" y="211.74" width="8.12" height="8.39" fill="#FFDE82"/>
<rect x="35.60" y="219.53" width="8.72" height="8.39" fill="#FFAC00"/>
<rect x="43.72" y="219.53" width="8.72" height="8.39" fill="#FFAC00"/>
<rect x="51.84" y="219.53" width="8.72" height="8.39" fill="#FFAC00"/>
<rect x="59.96" y="219.53" width="8.72" height="8.39" fill="#FFAC00"/>
<rect x="68.08" y="219.53" width="8.72" height="8.39" fill="#FFAC00"/>
<rect x="76.20" y="219.53" width="8.72" height="8.39" fill="#FFB000"/>
<rect x="84.32" y="219.53" width="8.72" height="8.39" fill="#FFAA00"/>
<rect x="92.44" y="219.53" width="8.72" height="8.39" fill="#FFAA00"/>
<rect x="100.56" y="219.53" width="8.72" height="8.39" fill="#FFAA00"/>
<rect x="108.68" y="219.53" width="8.72" height="8.39" fill="#FFB800"/>
<rect x="116.80" y="219.53" width="8.72" height="8.39" fill="#FFA800"/>
<rect x="124.92" y="219.53" width="8.72" height="8.39" fill="#FFBA00"/>
<rect x="133.04" y="219.53" width="8.72" height="8.39" fill="#FFB400"/>
<rect x="141.16" y="219.53" width="8.72" height="8.39" fill="#FFA000"/>
<rect x="149.28" y="219.53" width="8.72" height="8.39" fill="#FFAC00"/>
<rect x="157.40" y="219.53" width="8.72" height="8.39" fill="#FF8000"/>
<rect x="165.52" y="219.53" width="8.72" height="8.39" fill="#FF6A00"/>
<rect x="173.64" y="219.53" width="8.72" height="8.39" fill="#FFFFFF"/>
<rect x="181.76" y="219.53" width="8.72" height="8.39" fill="#FF7000"/>
<rect x="189.88" y="219.53" width="8.72" height="8.39" fill="#FF3000"/>
<rect x="198.00" y="219.53" width="8.72" height="8.39" fill="#FFC838"/>
<rect x="206.12" y="219.53" width="8.72" height="8.39" fill="#FFD050"/>
<rect x="214.24" y="219.53" width="8.72" height="8.39" fill="#FFD050"/>
<rect x="222.36" y="219.53" width="8.72" height="8.39" fill="#FFD050"/>
<rect x="230.48" y="219.53" width="8.72" height="8.39" fill="#FFD460"/>
<rect x="238.60" y="219.53" width="8.72" height="8.39" fill="#FFD460"/>
<rect x="246.72" y="219.53" width="8.72" height="8.39" fill="#FFD460"/>
<rect x="254.84" y="219.53" width="8.72" height="8.39" fill="#FFDA78"/>
<rect x="262.96" y="219.53" width="8.72" height="8.39" fill="#FFDC7C"/>
<rect x="271.08" y="219.53" width="8.12" height="8.39" fill="#FFDE82"/>
<rect x="35.60" y="227.32" width="8.72" height="8.39" fill="#FFB400"/>
<rect x="43.72" y="227.32" width="8.72" height="8.39" fill="#FFB400"/>
<rect x="51.84" y="227.32" width="8.72" height="8.39" fill="#FFB400"/>
<rect x="59.96" y="227.32" width="8.72" height="8.39" fill="#FFB400"/>
<rect x="68.08" y="227.32" width="8.72" height="8.39" fill="#FFB400"/>
<rect x="76.20" y="227.32" width="8.72" height="8.39" fill="#FFB400"/>
<rect x="84.32" y="227.32" width="8.72" height="8.39" fill="#FFB400"/>
<rect x="92.44" y="227.32" width="8.72" height="8.39" fill="#FFB400"/>
<rect x="100.56" y="227.32" width="8.72" height="8.39" fill="#FFA800"/>
<rect x="108.68" y="227.32" width="8.72" height="8.39" fill="#FFB000"/>
<rect x="116.80" y="227.32" width="8.72" height="8.39" fill="#FFAA00"/>
<rect x="124.92" y="227.32" width="8.72" height="8.39" fill="#FFBC20"/>
<rect x="133.04" y="227.32" width="8.72" height="8.39" fill="#FFB800"/>
<rect x="141.16" y="227.32" width="8.72" height="8.39" fill="#FFB000"/>
<rect x="149.28" y="227.32" width="8.72" height="8.39" fill="#FFAC00"/>
<rect x="157.40" y="227.32" width="8.72" height="8.39" fill="#FF8000"/>
<rect x="165.52" y="227.32" width="8.72" height="8.39" fill="#FF8000"/>
<rect x="173.64" y="227.32" width="8.72" height="8.39" fill="#FF7000"/>
<rect x="181.76" y="227.32" width="8.72" height="8.39" fill="#FFFFFF"/>
<rect x="189.88" y="227.32" width="8.72" height="8.39" fill="#FF6000"/>
<rect x="198.00" y="227.32" width="8.72" height="8.39" fill="#FFCC45"/>
<rect x="206.12" y="227.32" width="8.72" height="8.39" fill="#FFCC45"/>
<rect x="214.24" y="227.32" width="8.72" height="8.39" fill="#FFD058"/>
<rect x="222.36" y="227.32" width="8.72" height="8.39" fill="#FFD058"/>
<rect x="230.48" y="227.32" width="8.72" height="8.39" fill="#FFD868"/>
<rect x="238.60" y="227.32" width="8.72" height="8.39" fill="#FFD868"/>
<rect x="246.72" y="227.32" width="8.72" height="8.39" fill="#FFD460"/>
<rect x="254.84" y="227.32" width="8.72" height="8.39" fill="#FFDE84"/>
<rect x="262.96" y="227.32" width="8.72" height="8.39" fill="#FFDE84"/>
<rect x="271.08" y="227.32" width="8.12" height="8.39" fill="#FFDE84"/>
<rect x="35.60" y="235.11" width="8.72" height="8.39" fill="#FFB000"/>
<rect x="43.72" y="235.11" width="8.72" height="8.39" fill="#FFB000"/>
<rect x="51.84" y="235.11" width="8.72" height="8.39" fill="#FFB000"/>
<rect x="59.96" y="235.11" width="8.72" height="8.39" fill="#FFB000"/>
<rect x="68.08" y="235.11" width="8.72" height="8.39" fill="#FFB000"/>
<rect x="76.20" y="235.11" width="8.72" height="8.39" fill="#FFB000"/>
<rect x="84.32" y="235.11" width="8.72" height="8.39" fill="#FFB400"/>
<rect x="92.44" y="235.11" width="8.72" height="8.39" fill="#FFB000"/>
<rect x="100.56" y="235.11" width="8.72" height="8.39" fill="#FFA000"/>
<rect x="108.68" y="235.11" width="8.72" height="8.39" fill="#FFAA00"/>
<rect x="116.80" y="235.11" width="8.72" height="8.39" fill="#FFA500"/>
<rect x="124.92" y="235.11" width="8.72" height="8.39" fill="#FFBC20"/>
<rect x="133.04" y="235.11" width="8.72" height="8.39" fill="#FFB400"/>
<rect x="141.16" y="235.11" width="8.72" height="8.39" fill="#FFA000"/>
<rect x="149.28" y="235.11" width="8.72" height="8.39" fill="#FFAC00"/>
<rect x="157.40" y="235.11" width="8.72" height="8.39" fill="#FF8000"/>
<rect x="165.52" y="235.11" width="8.72" height="8.39" fill="#FF8000"/>
<rect x="173.64" y="235.11" width="8.72" height="8.39" fill="#FF3000"/>
<rect x="181.76" y="235.11" width="8.72" height="8.39" fill="#FF6000"/>
<rect x="189.88" y="235.11" width="8.72" height="8.39" fill="#FFFFFF"/>
<rect x="198.00" y="235.11" width="8.72" height="8.39" fill="#FFD055"/>
<rect x="206.12" y="235.11" width="8.72" height="8.39" fill="#FFD055"/>
<rect x="214.24" y="235.11" width="8.72" height="8.39" fill="#FFD462"/>
<rect x="222.36" y="235.11" width="8.72" height="8.39" fill="#FFD462"/>
<rect x="230.48" y="235.11" width="8.72" height="8.39" fill="#FFD868"/>
<rect x="238.60" y="235.11" width="8.72" height="8.39" fill="#FFD868"/>
<rect x="246.72" y="235.11" width="8.72" height="8.39" fill="#FFD460"/>
<rect x="254.84" y="235.11" width="8.72" height="8.39" fill="#FFDE84"/>
<rect x="262.96" y="235.11" width="8.72" height="8.39" fill="#FFDE84"/>
<rect x="271.08" y="235.11" width="8.12" height="8.39" fill="#FFDE84"/>
<rect x="35.60" y="242.90" width="8.72" height="8.39" fill="#FFC838"/>
<rect x="43.72" y="242.90" width="8.72" height="8.39" fill="#FFC838"/>
<rect x="51.84" y="242.90" width="8.72" height="8.39" fill="#FFC838"/>
<rect x="59.96" y="242.90" width="8.72" height="8.39" fill="#FFC838"/>
<rect x="68.08" y="242.90" width="8.72" height="8.39" fill="#FFC838"/>
<rect x="76.20" y="242.90" width="8.72" height="8.39" fill="#FFC838"/>
<rect x="84.32" y="242.90" width="8.72" height="8.39" fill="#FFCC48"/>
<rect x="92.44" y="242.90" width="8.72" height="8.39" fill="#FFCC48"/>
<rect x="100.56" y="242.90" width="8.72" height="8.39" fill="#FFCC48"/>
<rect x="108.68" y="242.90" width="8.72" height="8.39" fill="#FFCC48"/>
<rect x="116.80" y="242.90" width="8.72" height="8.39" fill="#FFCC48"/>
<rect x="124.92" y="242.90" width="8.72" height="8.39" fill="#FFCC48"/>
<rect x="133.04" y="242.90" width="8.72" height="8.39" fill="#FFC838"/>
<rect x="141.16" y="242.90" width="8.72" height="8.39" fill="#FFC030"/>
<rect x="149.28" y="242.90" width="8.72" height="8.39" fill="#FFC030"/>
<rect x="157.40" y="242.90" width="8.72" height="8.39" fill="#FFC838"/>
<rect x="165.52" y="242.90" width="8.72" height="8.39" fill="#FFC838"/>
<rect x="173.64" y="242.90" width="8.72" height="8.39" fill="#FFC838"/>
<rect x="181.76" y="242.90" width="8.72" height="8.39" fill="#FFCC45"/>
<rect x="189.88" y="242.90" width="8.72" height="8.39" fill="#FFD055"/>
<rect x="198.00" y="242.90" width="8.72" height="8.39" fill="#FFFFFF"/>
<rect x="206.12" y="242.90" width="8.72" height="8.39" fill="#FF2000"/>
<rect x="214.24" y="242.90" width="8.72" height="8.39" fill="#FFD870"/>
<rect x="222.36" y="242.90" width="8.72" height="8.39" fill="#FFD870"/>
<rect x="230.48" y="242.90" width="8.72" height="8.39" fill="#FFD870"/>
<rect x="238.60" y="242.90" width="8.72" height="8.39" fill="#FFD870"/>
<rect x="246.72" y="242.90" width="8.72" height="8.39" fill="#FFD462"/>
<rect x="254.84" y="242.90" width="8.72" height="8.39" fill="#FFDE85"/>
<rect x="262.96" y="242.90" width="8.72" height="8.39" fill="#FFDE85"/>
<rect x="271.08" y="242.90" width="8.12" height="8.39" fill="#FFDE85"/>
<rect x="35.60" y="250.69" width="8.72" height="8.39" fill="#FFCB42"/>
<rect x="43.72" y="250.69" width="8.72" height="8.39" fill="#FFCB42"/>
<rect x="51.84" y="250.69" width="8.72" height="8.39" fill="#FFCB42"/>
<rect x="59.96" y="250.69" width="8.72" height="8.39" fill="#FFCB42"/>
<rect x="68.08" y="250.69" width="8.72" height="8.39" fill="#FFCB42"/>
<rect x="76.20" y="250.69" width="8.72" height="8.39" fill="#FFCB42"/>
<rect x="84.32" y="250.69" width="8.72" height="8.39" fill="#FFCC48"/>
<rect x="92.44" y="250.69" width="8.72" height="8.39" fill="#FFCC48"/>
<rect x="100.56" y="250.69" width="8.72" height="8.39" fill="#FFCC48"/>
<rect x="108.68" y="250.69" width="8.72" height="8.39" fill="#FFCC48"/>
<rect x="116.80" y="250.69" width="8.72" height="8.39" fill="#FFCC48"/>
<rect x="124.92" y="250.69" width="8.72" height="8.39" fill="#FFCC48"/>
<rect x="133.04" y="250.69" width="8.72" height="8.39" fill="#FFD050"/>
<rect x="141.16" y="250.69" width="8.72" height="8.39" fill="#FFD050"/>
<rect x="149.28" y="250.69" width="8.72" height="8.39" fill="#FFD050"/>
<rect x="157.40" y="250.69" width="8.72" height="8.39" fill="#FFD050"/>
<rect x="165.52" y="250.69" width="8.72" height="8.39" fill="#FFD050"/>
<rect x="173.64" y="250.69" width="8.72" height="8.39" fill="#FFD050"/>
<rect x="181.76" y="250.69" width="8.72" height="8.39" fill="#FFCC45"/>
<rect x="189.88" y="250.69" width="8.72" height="8.39" fill="#FFD055"/>
<rect x="198.00" y="250.69" width="8.72" height="8.39" fill="#FF2000"/>
<rect x="206.12" y="250.69" width="8.72" height="8.39" fill="#FFFFFF"/>
<rect x="214.24" y="250.69" width="8.72" height="8.39" fill="#FFD870"/>
<rect x="222.36" y="250.69" width="8.72" height="8.39" fill="#FFD870"/>
<rect x="230.48" y="250.69" width="8.72" height="8.39" fill="#FFD870"/>
<rect x="238.60" y="250.69" width="8.72" height="8.39" fill="#FFD870"/>
<rect x="246.72" y="250.69" width="8.72" height="8.39" fill="#FFD462"/>
<rect x="254.84" y="250.69" width="8.72" height="8.39" fill="#FFDE85"/>
<rect x="262.96" y="250.69" width="8.72" height="8.39" fill="#FFDE85"/>
<rect x="271.08" y="250.69" width="8.12" height="8.39" fill="#FFDE85"/>
<rect x="35.60" y="258.48" width="8.72" height="8.39" fill="#FFCB42"/>
<rect x="43.72" y="258.48" width="8.72" height="8.39" fill="#FFCB42"/>
<rect x="51.84" y="258.48" width="8.72" height="8.39" fill="#FFCB42"/>
<rect x="59.96" y="258.48" width="8.72" height="8.39" fill="#FFCB42"/>
<rect x="68.08" y="258.48" width="8.72" height="8.39" fill="#FFCB42"/>
<rect x="76.20" y="258.48" width="8.72" height="8.39" fill="#FFCB42"/>
<rect x="84.32" y="258.48" width="8.72" height="8.39" fill="#FFCC48"/>
<rect x="92.44" y="258.48" width="8.72" height="8.39" fill="#FFCC48"/>
<rect x="100.56" y="258.48" width="8.72" height="8.39" fill="#FFCC48"/>
<rect x="108.68" y="258.48" width="8.72" height="8.39" fill="#FFCC48"/>
<rect x="116.80" y="258.48" width="8.72" height="8.39" fill="#FFCC48"/>
<rect x="124.92" y="258.48" width="8.72" height="8.39" fill="#FFCC48"/>
<rect x="133.04" y="258.48" width="8.72" height="8.39" fill="#FFD050"/>
<rect x="141.16" y="258.48" width="8.72" height="8.39" fill="#FFD050"/>
<rect x="149.28" y="258.48" width="8.72" height="8.39" fill="#FFD050"/>
<rect x="157.40" y="258.48" width="8.72" height="8.39" fill="#FFD050"/>
<rect x="165.52" y="258.48" width="8.72" height="8.39" fill="#FFD050"/>
<rect x="173.64" y="258.48" width="8.72" height="8.39" fill="#FFD050"/>
<rect x="181.76" y="258.48" width="8.72" height="8.39" fill="#FFD058"/>
<rect x="189.88" y="258.48" width="8.72" height="8.39" fill="#FFD462"/>
<rect x="198.00" y="258.48" width="8.72" height="8.39" fill="#FFD870"/>
<rect x="206.12" y="258.48" width="8.72" height="8.39" fill="#FFD870"/>
<rect x="214.24" y="258.48" width="8.72" height="8.39" fill="#FFFFFF"/>
<rect x="222.36" y="258.48" width="8.72" height="8.39" fill="#FF2800"/>
<rect x="230.48" y="258.48" width="8.72" height="8.39" fill="#FF7000"/>
<rect x="238.60" y="258.48" width="8.72" height="8.39" fill="#FF7000"/>
<rect x="246.72" y="258.48" width="8.72" height="8.39" fill="#FFBC00"/>
<rect x="254.84" y="258.48" width="8.72" height="8.39" fill="#FFE090"/>
<rect x="262.96" y="258.48" width="8.72" height="8.39" fill="#FFE090"/>
<rect x="271.08" y="258.48" width="8.12" height="8.39" fill="#FFE090"/>
<rect x="35.60" y="266.27" width="8.72" height="8.39" fill="#FFCA3E"/>
<rect x="43.72" y="266.27" width="8.72" height="8.39" fill="#FFCA3E"/>
<rect x="51.84" y="266.27" width="8.72" height="8.39" fill="#FFCA3E"/>
<rect x="59.96" y="266.27" width="8.72" height="8.39" fill="#FFCA3E"/>
<rect x="68.08" y="266.27" width="8.72" height="8.39" fill="#FFCA3E"/>
<rect x="76.20" y="266.27" width="8.72" height="8.39" fill="#FFCA3E"/>
<rect x="84.32" y="266.27" width="8.72" height="8.39" fill="#FFCC48"/>
<rect x="92.44" y="266.27" width="8.72" height="8.39" fill="#FFCC48"/>
<rect x="100.56" y="266.27" width="8.72" height="8.39" fill="#FFCC48"/>
<rect x="108.68" y="266.27" width="8.72" height="8.39" fill="#FFCC48"/>
<rect x="116.80" y="266.27" width="8.72" height="8.39" fill="#FFCC48"/>
<rect x="124.92" y="266.27" width="8.72" height="8.39" fill="#FFCC48"/>
<rect x="133.04" y="266.27" width="8.72" height="8.39" fill="#FFD050"/>
<rect x="141.16" y="266.27" width="8.72" height="8.39" fill="#FFD050"/>
<rect x="149.28" y="266.27" width="8.72" height="8.39" fill="#FFD050"/>
<rect x="157.40" y="266.27" width="8.72" height="8.39" fill="#FFD050"/>
<rect x="165.52" y="266.27" width="8.72" height="8.39" fill="#FFD050"/>
<rect x="173.64" y="266.27" width="8.72" height="8.39" fill="#FFD050"/>
<rect x="181.76" y="266.27" width="8.72" height="8.39" fill="#FFD058"/>
<rect x="189.88" y="266.27" width="8.72" height="8.39" fill="#FFD462"/>
<rect x="198.00" y="266.27" width="8.72" height="8.39" fill="#FFD870"/>
<rect x="206.12" y="266.27" width="8.72" height="8.39" fill="#FFD870"/>
<rect x="214.24" y="266.27" width="8.72" height="8.39" fill="#FF2800"/>
<rect x="222.36" y="266.27" width="8.72" height="8.39" fill="#FFFFFF"/>
<rect x="230.48" y="266.27" width="8.72" height="8.39" fill="#FF6000"/>
<rect x="238.60" y="266.27" width="8.72" height="8.39" fill="#FF7000"/>
<rect x="246.72" y="266.27" width="8.72" height="8.39" fill="#FFBC00"/>
<rect x="254.84" y="266.27" width="8.72" height="8.39" fill="#FFE090"/>
<rect x="262.96" y="266.27" width="8.72" height="8.39" fill="#FFE090"/>
<rect x="271.08" y="266.27" width="8.12" height="8.39" fill="#FFE090"/>
<rect x="35.60" y="274.06" width="8.72" height="8.39" fill="#FFD058"/>
<rect x="43.72" y="274.06" width="8.72" height="8.39" fill="#FFD058"/>
<rect x="51.84" y="274.06" width="8.72" height="8.39" fill="#FFD058"/>
<rect x="59.96" y="274.06" width="8.72" height="8.39" fill="#FFD058"/>
<rect x="68.08" y="274.06" width="8.72" height="8.39" fill="#FFD058"/>
<rect x="76.20" y="274.06" width="8.72" height="8.39" fill="#FFD058"/>
<rect x="84.32" y="274.06" width="8.72" height="8.39" fill="#FFD05A"/>
<rect x="92.44" y="274.06" width="8.72" height="8.39" fill="#FFD05A"/>
<rect x="100.56" y="274.06" width="8.72" height="8.39" fill="#FFD05A"/>
<rect x="108.68" y="274.06" width="8.72" height="8.39" fill="#FFD05A"/>
<rect x="116.80" y="274.06" width="8.72" height="8.39" fill="#FFD05A"/>
<rect x="124.92" y="274.06" width="8.72" height="8.39" fill="#FFD05A"/>
<rect x="133.04" y="274.06" width="8.72" height="8.39" fill="#FFD460"/>
<rect x="141.16" y="274.06" width="8.72" height="8.39" fill="#FFD460"/>
<rect x="149.28" y="274.06" width="8.72" height="8.39" fill="#FFD460"/>
<rect x="157.40" y="274.06" width="8.72" height="8.39" fill="#FFD460"/>
<rect x="165.52" y="274.06" width="8.72" height="8.39" fill="#FFD460"/>
<rect x="173.64" y="274.06" width="8.72" height="8.39" fill="#FFD460"/>
<rect x="181.76" y="274.06" width="8.72" height="8.39" fill="#FFD868"/>
<rect x="189.88" y="274.06" width="8.72" height="8.39" fill="#FFD868"/>
<rect x="198.00" y="274.06" width="8.72" height="8.39" fill="#FFD870"/>
<rect x="206.12" y="274.06" width="8.72" height="8.39" fill="#FFD870"/>
<rect x="214.24" y="274.06" width="8.72" height="8.39" fill="#FF7000"/>
<rect x="222.36" y="274.06" width="8.72" height="8.39" fill="#FF6000"/>
<rect x="230.48" y="274.06" width="8.72" height="8.39" fill="#FFFFFF"/>
<rect x="238.60" y="274.06" width="8.72" height="8.39" fill="#FF2000"/>
<rect x="246.72" y="274.06" width="8.72" height="8.39" fill="#FFBC00"/>
<rect x="254.84" y="274.06" width="8.72" height="8.39" fill="#FFE090"/>
<rect x="262.96" y="274.06" width="8.72" height="8.39" fill="#FFE090"/>
<rect x="271.08" y="274.06" width="8.12" height="8.39" fill="#FFE090"/>
<rect x="35.60" y="281.85" width="8.72" height="8.39" fill="#FFD05A"/>
<rect x="43.72" y="281.85" width="8.72" height="8.39" fill="#FFD05A"/>
<rect x="51.84" y="281.85" width="8.72" height="8.39" fill="#FFD05A"/>
<rect x="59.96" y="281.85" width="8.72" height="8.39" fill="#FFD05A"/>
<rect x="68.08" y="281.85" width="8.72" height="8.39" fill="#FFD05A"/>
<rect x="76.20" y="281.85" width="8.72" height="8.39" fill="#FFD05A"/>
<rect x="84.32" y="281.85" width="8.72" height="8.39" fill="#FFD05A"/>
<rect x="92.44" y="281.85" width="8.72" height="8.39" fill="#FFD05A"/>
<rect x="100.56" y="281.85" width="8.72" height="8.39" fill="#FFD05A"/>
<rect x="108.68" y="281.85" width="8.72" height="8.39" fill="#FFD05A"/>
<rect x="116.80" y="281.85" width="8.72" height="8.39" fill="#FFD05A"/>
<rect x="124.92" y="281.85" width="8.72" height="8.39" fill="#FFD05A"/>
<rect x="133.04" y="281.85" width="8.72" height="8.39" fill="#FFD460"/>
<rect x="141.16" y="281.85" width="8.72" height="8.39" fill="#FFD460"/>
<rect x="149.28" y="281.85" width="8.72" height="8.39" fill="#FFD460"/>
<rect x="157.40" y="281.85" width="8.72" height="8.39" fill="#FFD460"/>
<rect x="165.52" y="281.85" width="8.72" height="8.39" fill="#FFD460"/>
<rect x="173.64" y="281.85" width="8.72" height="8.39" fill="#FFD460"/>
<rect x="181.76" y="281.85" width="8.72" height="8.39" fill="#FFD868"/>
<rect x="189.88" y="281.85" width="8.72" height="8.39" fill="#FFD868"/>
<rect x="198.00" y="281.85" width="8.72" height="8.39" fill="#FFD870"/>
<rect x="206.12" y="281.85" width="8.72" height="8.39" fill="#FFD870"/>
<rect x="214.24" y="281.85" width="8.72" height="8.39" fill="#FF7000"/>
<rect x="222.36" y="281.85" width="8.72" height="8.39" fill="#FF7000"/>
<rect x="230.48" y="281.85" width="8.72" height="8.39" fill="#FF2000"/>
<rect x="238.60" y="281.85" width="8.72" height="8.39" fill="#FFFFFF"/>
<rect x="246.72" y="281.85" width="8.72" height="8.39" fill="#FFBC00"/>
<rect x="254.84" y="281.85" width="8.72" height="8.39" fill="#FFE090"/>
<rect x="262.96" y="281.85" width="8.72" height="8.39" fill="#FFE090"/>
<rect x="271.08" y="281.85" width="8.12" height="8.39" fill="#FFE090"/>
<rect x="35.60" y="289.64" width="8.72" height="8.39" fill="#FFD05A"/>
<rect x="43.72" y="289.64" width="8.72" height="8.39" fill="#FFD05A"/>
<rect x="51.84" y="289.64" width="8.72" height="8.39" fill="#FFD05A"/>
<rect x="59.96" y="289.64" width="8.72" height="8.39" fill="#FFD05A"/>
<rect x="68.08" y="289.64" width="8.72" height="8.39" fill="#FFD05A"/>
<rect x="76.20" y="289.64" width="8.72" height="8.39" fill="#FFD05A"/>
<rect x="84.32" y="289.64" width="8.72" height="8.39" fill="#FFD05A"/>
<rect x="92.44" y="289.64" width="8.72" height="8.39" fill="#FFC840"/>
<rect x="100.56" y="289.64" width="8.72" height="8.39" fill="#FFD05A"/>
<rect x="108.68" y="289.64" width="8.72" height="8.39" fill="#FFD05A"/>
<rect x="116.80" y="289.64" width="8.72" height="8.39" fill="#FFC840"/>
<rect x="124.92" y="289.64" width="8.72" height="8.39" fill="#FFD05A"/>
<rect x="133.04" y="289.64" width="8.72" height="8.39" fill="#FFD460"/>
<rect x="141.16" y="289.64" width="8.72" height="8.39" fill="#FFD460"/>
<rect x="149.28" y="289.64" width="8.72" height="8.39" fill="#FFC840"/>
<rect x="157.40" y="289.64" width="8.72" height="8.39" fill="#FFD460"/>
<rect x="165.52" y="289.64" width="8.72" height="8.39" fill="#FFD460"/>
<rect x="173.64" y="289.64" width="8.72" height="8.39" fill="#FFD460"/>
<rect x="181.76" y="289.64" width="8.72" height="8.39" fill="#FFD460"/>
<rect x="189.88" y="289.64" width="8.72" height="8.39" fill="#FFD460"/>
<rect x="198.00" y="289.64" width="8.72" height="8.39" fill="#FFD462"/>
<rect x="206.12" y="289.64" width="8.72" height="8.39" fill="#FFD462"/>
<rect x="214.24" y="289.64" width="8.72" height="8.39" fill="#FFBC00"/>
<rect x="222.36" y="289.64" width="8.72" height="8.39" fill="#FFBC00"/>
<rect x="230.48" y="289.64" width="8.72" height="8.39" fill="#FFBC00"/>
<rect x="238.60" y="289.64" width="8.72" height="8.39" fill="#FFBC00"/>
<rect x="246.72" y="289.64" width="8.72" height="8.39" fill="#FFFFFF"/>
<rect x="254.84" y="289.64" width="8.72" height="8.39" fill="#FFDC80"/>
<rect x="262.96" y="289.64" width="8.72" height="8.39" fill="#FFDC80"/>
<rect x="271.08" y="289.64" width="8.12" height="8.39" fill="#FFDC80"/>
<rect x="35.60" y="297.43" width="8.72" height="8.39" fill="#FFD870"/>
<rect x="43.72" y="297.43" width="8.72" height="8.39" fill="#FFD870"/>
<rect x="51.84" y="297.43" width="8.72" height="8.39" fill="#FFD870"/>
<rect x="59.96" y="297.43" width="8.72" height="8.39" fill="#FFD870"/>
<rect x="68.08" y="297.43" width="8.72" height="8.39" fill="#FFD870"/>
<rect x="76.20" y="297.43" width="8.72" height="8.39" fill="#FFD870"/>
<rect x="84.32" y="297.43" width="8.72" height="8.39" fill="#FFD874"/>
<rect x="92.44" y="297.43" width="8.72" height="8.39" fill="#FFD874"/>
<rect x="100.56" y="297.43" width="8.72" height="8.39" fill="#FFD874"/>
<rect x="108.68" y="297.43" width="8.72" height="8.39" fill="#FFD874"/>
<rect x="116.80" y="297.43" width="8.72" height="8.39" fill="#FFD874"/>
<rect x="124.92" y="297.43" width="8.72" height="8.39" fill="#FFD874"/>
<rect x="133.04" y="297.43" width="8.72" height="8.39" fill="#FFDA78"/>
<rect x="141.16" y="297.43" width="8.72" height="8.39" fill="#FFDA78"/>
<rect x="149.28" y="297.43" width="8.72" height="8.39" fill="#FFDA78"/>
<rect x="157.40" y="297.43" width="8.72" height="8.39" fill="#FFDA78"/>
<rect x="165.52" y="297.43" width="8.72" height="8.39" fill="#FFDA78"/>
<rect x="173.64" y="297.43" width="8.72" height="8.39" fill="#FFDA78"/>
<rect x="181.76" y="297.43" width="8.72" height="8.39" fill="#FFDE84"/>
<rect x="189.88" y="297.43" width="8.72" height="8.39" fill="#FFDE84"/>
<rect x="198.00" y="297.43" width="8.72" height="8.39" fill="#FFDE85"/>
<rect x="206.12" y="297.43" width="8.72" height="8.39" fill="#FFDE85"/>
<rect x="214.24" y="297.43" width="8.72" height="8.39" fill="#FFE090"/>
<rect x="222.36" y="297.43" width="8.72" height="8.39" fill="#FFE090"/>
<rect x="230.48" y="297.43" width="8.72" height="8.39" fill="#FFE090"/>
<rect x="238.60" y="297.43" width="8.72" height="8.39" fill="#FFE090"/>
<rect x="246.72" y="297.43" width="8.72" height="8.39" fill="#FFDC80"/>
<rect x="254.84" y="297.43" width="8.72" height="8.39" fill="#FFFFFF"/>
<rect x="262.96" y="297.43" width="8.72" height="8.39" fill="#FFC000"/>
<rect x="271.08" y="297.43" width="8.12" height="8.39" fill="#FFC000"/>
<rect x="35.60" y="305.22" width="8.72" height="8.39" fill="#FFDC7C"/>
<rect x="43.72" y="305.22" width="8.72" height="8.39" fill="#FFDC7C"/>
<rect x="51.84" y="305.22" width="8.72" height="8.39" fill="#FFDC7C"/>
<rect x="59.96" y="305.22" width="8.72" height="8.39" fill="#FFDC7C"/>
<rect x="68.08" y="305.22" width="8.72" height="8.39" fill="#FFDC7C"/>
<rect x="76.20" y="305.22" width="8.72" height="8.39" fill="#FFDC7C"/>
<rect x="84.32" y="305.22" width="8.72" height="8.39" fill="#FFDB7A"/>
<rect x="92.44" y="305.22" width="8.72" height="8.39" fill="#FFDB7A"/>
<rect x="100.56" y="305.22" width="8.72" height="8.39" fill="#FFDB7A"/>
<rect x="108.68" y="305.22" width="8.72" height="8.39" fill="#FFDB7A"/>
<rect x="116.80" y="305.22" width="8.72" height="8.39" fill="#FFDB7A"/>
<rect x="124.92" y="305.22" width="8.72" height="8.39" fill="#FFDB7A"/>
<rect x="133.04" y="305.22" width="8.72" height="8.39" fill="#FFDC7C"/>
<rect x="141.16" y="305.22" width="8.72" height="8.39" fill="#FFDC7C"/>
<rect x="149.28" y="305.22" width="8.72" height="8.39" fill="#FFDC7C"/>
<rect x="157.40" y="305.22" width="8.72" height="8.39" fill="#FFDC7C"/>
<rect x="165.52" y="305.22" width="8.72" height="8.39" fill="#FFDC7C"/>
<rect x="173.64" y="305.22" width="8.72" height="8.39" fill="#FFDC7C"/>
<rect x="181.76" y="305.22" width="8.72" height="8.39" fill="#FFDE84"/>
<rect x="189.88" y="305.22" width="8.72" height="8.39" fill="#FFDE84"/>
<rect x="198.00" y="305.22" width="8.72" height="8.39" fill="#FFDE85"/>
<rect x="206.12" y="305.22" width="8.72" height="8.39" fill="#FFDE85"/>
<rect x="214.24" y="305.22" width="8.72" height="8.39" fill="#FFE090"/>
<rect x="222.36" y="305.22" width="8.72" height="8.39" fill="#FFE090"/>
<rect x="230.48" y="305.22" width="8.72" height="8.39" fill="#FFE090"/>
<rect x="238.60" y="305.22" width="8.72" height="8.39" fill="#FFE090"/>
<rect x="246.72" y="305.22" width="8.72" height="8.39" fill="#FFDC80"/>
<rect x="254.84" y="305.22" width="8.72" height="8.39" fill="#FFC000"/>
<rect x="262.96" y="305.22" width="8.72" height="8.39" fill="#FFFFFF"/>
<rect x="271.08" y="305.22" width="8.12" height="8.39" fill="#FF1A00"/>
<rect x="35.60" y="313.01" width="8.72" height="7.79" fill="#FFDF86"/>
<rect x="43.72" y="313.01" width="8.72" height="7.79" fill="#FFDF86"/>
<rect x="51.84" y="313.01" width="8.72" height="7.79" fill="#FFDF86"/>
<rect x="59.96" y="313.01" width="8.72" height="7.79" fill="#FFDF86"/>
<rect x="68.08" y="313.01" width="8.72" height="7.79" fill="#FFDF86"/>
<rect x="76.20" y="313.01" width="8.72" height="7.79" fill="#FFDF86"/>
<rect x="84.32" y="313.01" width="8.72" height="7.79" fill="#FFDE82"/>
<rect x="92.44" y="313.01" width="8.72" height="7.79" fill="#FFDE82"/>
<rect x="100.56" y="313.01" width="8.72" height="7.79" fill="#FFDE82"/>
<rect x="108.68" y="313.01" width="8.72" height="7.79" fill="#FFDE82"/>
<rect x="116.80" y="313.01" width="8.72" height="7.79" fill="#FFDE82"/>
<rect x="124.92" y="313.01" width="8.72" height="7.79" fill="#FFDE82"/>
<rect x="133.04" y="313.01" width="8.72" height="7.79" fill="#FFDE82"/>
<rect x="141.16" y="313.01" width="8.72" height="7.79" fill="#FFDE82"/>
<rect x="149.28" y="313.01" width="8.72" height="7.79" fill="#FFDE82"/>
<rect x="157.40" y="313.01" width="8.72" height="7.79" fill="#FFDE82"/>
<rect x="165.52" y="313.01" width="8.72" height="7.79" fill="#FFDE82"/>
<rect x="173.64" y="313.01" width="8.72" height="7.79" fill="#FFDE82"/>
<rect x="181.76" y="313.01" width="8.72" height="7.79" fill="#FFDE84"/>
<rect x="189.88" y="313.01" width="8.72" height="7.79" fill="#FFDE84"/>
<rect x="198.00" y="313.01" width="8.72" height="7.79" fill="#FFDE85"/>
<rect x="206.12" y="313.01" width="8.72" height="7.79" fill="#FFDE85"/>
<rect x="214.24" y="313.01" width="8.72" height="7.79" fill="#FFE090"/>
<rect x="222.36" y="313.01" width="8.72" height="7.79" fill="#FFE090"/>
<rect x="230.48" y="313.01" width="8.72" height="7.79" fill="#FFE090"/>
<rect x="238.60" y="313.01" width="8.72" height="7.79" fill="#FFE090"/>
<rect x="246.72" y="313.01" width="8.72" height="7.79" fill="#FFDC80"/>
<rect x="254.84" y="313.01" width="8.72" height="7.79" fill="#FFC000"/>
<rect x="262.96" y="313.01" width="8.72" height="7.79" fill="#FF1A00"/>
<rect x="271.08" y="313.01" width="8.12" height="7.79" fill="#FFFFFF"/>
</g>
<g font-weight="bold" font-size="7.7" fill="#141414" stroke-width="0.12">
<text x="286.7" y="93.60" textLength="88.03" lengthAdjust="spacingAndGlyphs" fill="#FF0000" stroke="#FF0000">batPMV/MinFul/SL/2018_1</text>
<text x="286.7" y="101.39" textLength="88.03" lengthAdjust="spacingAndGlyphs" fill="#FF0000" stroke="#FF0000">batPMV/MinFul/SL/2018_2</text>
<text x="286.7" y="109.18" textLength="88.03" lengthAdjust="spacingAndGlyphs" fill="#FF0000" stroke="#FF0000">batPMV/MinFul/SL/2018_3</text>
<text x="286.7" y="116.97" textLength="138.53" lengthAdjust="spacingAndGlyphs" stroke="#141414">KC154054_M. schreibersii PMV /Anhui2011</text>
<text x="286.7" y="124.76" textLength="167.18" lengthAdjust="spacingAndGlyphs" stroke="#141414">MZ328288_Jingmen M. schreibersii paramyxovirus 1</text>
<text x="286.7" y="132.55" textLength="140.22" lengthAdjust="spacingAndGlyphs" stroke="#141414">KP963896_Paramyxovirus PREDICT_PMV-53</text>
<text x="286.7" y="140.34" textLength="162.95" lengthAdjust="spacingAndGlyphs" stroke="#141414">MG203878_Bat paramyxovirus strain Bat-PV-17770</text>
<text x="286.7" y="148.13" textLength="179.82" lengthAdjust="spacingAndGlyphs" stroke="#141414">MG230624_Bat paramyxovirus isolate Bat-ParaV/B16-40</text>
<text x="286.7" y="155.92" textLength="162.95" lengthAdjust="spacingAndGlyphs" stroke="#141414">MG203877_Bat paramyxovirus strain Bat-PV-16797</text>
<text x="286.7" y="163.71" textLength="143.02" lengthAdjust="spacingAndGlyphs" stroke="#141414">KY783904_Bat paramyxovirus isolate 160228</text>
<text x="286.7" y="171.50" textLength="148.66" lengthAdjust="spacingAndGlyphs" stroke="#141414">KC599258_Paramyxovirus YN12103/CHN/2012</text>
<text x="286.7" y="179.29" textLength="160.38" lengthAdjust="spacingAndGlyphs" stroke="#141414">MG000873_Bat paramyxovirus  BtCov-Zim026Mag</text>
<text x="286.7" y="187.08" textLength="160.48" lengthAdjust="spacingAndGlyphs" stroke="#141414">KJ641655_Bat paramyxovirus BtHp-ParaV/GD2012</text>
<text x="286.7" y="194.87" textLength="115.79" lengthAdjust="spacingAndGlyphs" stroke="#141414">LC431581_Feline paramyxovirus 163</text>
<text x="286.7" y="202.66" textLength="146.35" lengthAdjust="spacingAndGlyphs" stroke="#141414">NC_043539_Mount Mabu Lophuromys virus 1</text>
<text x="286.7" y="210.45" textLength="146.35" lengthAdjust="spacingAndGlyphs" stroke="#141414">NC_043540_Mount Mabu Lophuromys virus 2</text>
<text x="286.7" y="218.24" textLength="60.56" lengthAdjust="spacingAndGlyphs" stroke="#141414">NC_007454_J-virus</text>
<text x="286.7" y="226.03" textLength="78.33" lengthAdjust="spacingAndGlyphs" stroke="#141414">NC_025355_Tailam virus</text>
<text x="286.7" y="233.82" textLength="144.91" lengthAdjust="spacingAndGlyphs" stroke="#141414">MG516455_Pohorje myodes paramyxovirus 1</text>
<text x="286.7" y="241.61" textLength="81.35" lengthAdjust="spacingAndGlyphs" stroke="#141414">NC_007803_Beilong virus</text>
<text x="286.7" y="249.40" textLength="97.15" lengthAdjust="spacingAndGlyphs" stroke="#141414">MN549409_Nipah henipavirus</text>
<text x="286.7" y="257.19" textLength="80.82" lengthAdjust="spacingAndGlyphs" stroke="#141414">NC_001906_Hendra virus</text>
<text x="286.7" y="264.98" textLength="83.77" lengthAdjust="spacingAndGlyphs" stroke="#141414">NC_001498_Measles virus</text>
<text x="286.7" y="272.77" textLength="92.22" lengthAdjust="spacingAndGlyphs" stroke="#141414">NC_006296_Rinderpest virus</text>
<text x="286.7" y="280.56" textLength="117.15" lengthAdjust="spacingAndGlyphs" stroke="#141414">NC_028249_Phocine distemper virus</text>
<text x="286.7" y="288.35" textLength="113.57" lengthAdjust="spacingAndGlyphs" stroke="#141414">NC_001921_Canine distemper virus</text>
<text x="286.7" y="296.14" textLength="101.38" lengthAdjust="spacingAndGlyphs" stroke="#141414">NC_039196_Feline morbillivirus</text>
<text x="286.7" y="303.93" textLength="78.92" lengthAdjust="spacingAndGlyphs" stroke="#141414">NC_001552_Sendai virus</text>
<text x="286.7" y="311.72" textLength="127.27" lengthAdjust="spacingAndGlyphs" stroke="#141414">EU424062_Human parainfluenza virus 3</text>
<text x="286.7" y="319.51" textLength="130.27" lengthAdjust="spacingAndGlyphs" stroke="#141414">NC_002161_Bovine parainfluenza virus 3</text>
</g>
<g font-size="6.9" font-weight="bold" fill="#141414">
<text transform="translate(42.66,85.2) rotate(-90)" x="0" y="0" textLength="80.60" lengthAdjust="spacingAndGlyphs" fill="#FF0000" font-weight="normal" stroke="#FF0000" stroke-width="0.2">batPMV/MinFul/SL/2018_1</text>
<text transform="translate(50.78,85.2) rotate(-90)" x="0" y="0" textLength="80.60" lengthAdjust="spacingAndGlyphs" fill="#FF0000" font-weight="normal" stroke="#FF0000" stroke-width="0.2">batPMV/MinFul/SL/2018_2</text>
<text transform="translate(58.90,85.2) rotate(-90)" x="0" y="0" textLength="80.60" lengthAdjust="spacingAndGlyphs" fill="#FF0000" font-weight="normal" stroke="#FF0000" stroke-width="0.2">batPMV/MinFul/SL/2018_3</text>
<text transform="translate(67.02,85.2) rotate(-90)" x="0" y="0" textLength="28.16" lengthAdjust="spacingAndGlyphs">KC154054</text>
<text transform="translate(75.14,85.2) rotate(-90)" x="0" y="0" textLength="30.31" lengthAdjust="spacingAndGlyphs">MZ328288</text>
<text transform="translate(83.26,85.2) rotate(-90)" x="0" y="0" textLength="28.43" lengthAdjust="spacingAndGlyphs">KP963896</text>
<text transform="translate(91.38,85.2) rotate(-90)" x="0" y="0" textLength="31.41" lengthAdjust="spacingAndGlyphs">MG203878</text>
<text transform="translate(99.50,85.2) rotate(-90)" x="0" y="0" textLength="31.41" lengthAdjust="spacingAndGlyphs">MG230624</text>
<text transform="translate(107.62,85.2) rotate(-90)" x="0" y="0" textLength="31.41" lengthAdjust="spacingAndGlyphs">MG203877</text>
<text transform="translate(115.74,85.2) rotate(-90)" x="0" y="0" textLength="28.34" lengthAdjust="spacingAndGlyphs">KY783904</text>
<text transform="translate(123.86,85.2) rotate(-90)" x="0" y="0" textLength="28.16" lengthAdjust="spacingAndGlyphs">KC599258</text>
<text transform="translate(131.98,85.2) rotate(-90)" x="0" y="0" textLength="31.41" lengthAdjust="spacingAndGlyphs">MG000873</text>
<text transform="translate(140.10,85.2) rotate(-90)" x="0" y="0" textLength="27.04" lengthAdjust="spacingAndGlyphs">KJ641655</text>
<text transform="translate(148.22,85.2) rotate(-90)" x="0" y="0" textLength="27.47" lengthAdjust="spacingAndGlyphs">LC431581</text>
<text transform="translate(156.34,85.2) rotate(-90)" x="0" y="0" textLength="32.62" lengthAdjust="spacingAndGlyphs">NC_043539</text>
<text transform="translate(164.46,85.2) rotate(-90)" x="0" y="0" textLength="32.62" lengthAdjust="spacingAndGlyphs">NC_043540</text>
<text transform="translate(172.58,85.2) rotate(-90)" x="0" y="0" textLength="32.62" lengthAdjust="spacingAndGlyphs">NC_007454</text>
<text transform="translate(180.70,85.2) rotate(-90)" x="0" y="0" textLength="32.62" lengthAdjust="spacingAndGlyphs">NC_025355</text>
<text transform="translate(188.82,85.2) rotate(-90)" x="0" y="0" textLength="31.41" lengthAdjust="spacingAndGlyphs">MG516455</text>
<text transform="translate(196.94,85.2) rotate(-90)" x="0" y="0" textLength="32.62" lengthAdjust="spacingAndGlyphs">NC_007803</text>
<text transform="translate(205.06,85.2) rotate(-90)" x="0" y="0" textLength="31.56" lengthAdjust="spacingAndGlyphs">MN549409</text>
<text transform="translate(213.18,85.2) rotate(-90)" x="0" y="0" textLength="32.62" lengthAdjust="spacingAndGlyphs">NC_001906</text>
<text transform="translate(221.30,85.2) rotate(-90)" x="0" y="0" textLength="32.62" lengthAdjust="spacingAndGlyphs">NC_001498</text>
<text transform="translate(229.42,85.2) rotate(-90)" x="0" y="0" textLength="32.62" lengthAdjust="spacingAndGlyphs">NC_006296</text>
<text transform="translate(237.54,85.2) rotate(-90)" x="0" y="0" textLength="32.62" lengthAdjust="spacingAndGlyphs">NC_028249</text>
<text transform="translate(245.66,85.2) rotate(-90)" x="0" y="0" textLength="32.62" lengthAdjust="spacingAndGlyphs">NC_001921</text>
<text transform="translate(253.78,85.2) rotate(-90)" x="0" y="0" textLength="32.62" lengthAdjust="spacingAndGlyphs">NC_039196</text>
<text transform="translate(261.90,85.2) rotate(-90)" x="0" y="0" textLength="32.62" lengthAdjust="spacingAndGlyphs">NC_001552</text>
<text transform="translate(270.02,85.2) rotate(-90)" x="0" y="0" textLength="28.85" lengthAdjust="spacingAndGlyphs">EU424062</text>
<text transform="translate(278.14,85.2) rotate(-90)" x="0" y="0" textLength="32.62" lengthAdjust="spacingAndGlyphs">NC_002161</text>
</g>
<rect x="15.9" y="102.80" width="10.4" height="8.01" fill="#FFF2CC"/>
<rect x="15.9" y="110.41" width="10.4" height="8.01" fill="#FFE495"/>
<rect x="15.9" y="118.02" width="10.4" height="8.01" fill="#FFD34F"/>
<rect x="15.9" y="125.63" width="10.4" height="8.01" fill="#FFC000"/>
<rect x="15.9" y="133.24" width="10.4" height="8.01" fill="#FF8A00"/>
<rect x="15.9" y="140.85" width="10.4" height="8.01" fill="#FF4A00"/>
<rect x="15.9" y="148.46" width="10.4" height="8.01" fill="#FF0A0A"/>
<g font-size="4.8" font-weight="bold" fill="#222" text-anchor="end">
<text x="13.4" y="109.61" textLength="8.30" lengthAdjust="spacingAndGlyphs">40%</text>
<text x="13.4" y="117.22" textLength="8.30" lengthAdjust="spacingAndGlyphs">50%</text>
<text x="13.4" y="124.83" textLength="8.30" lengthAdjust="spacingAndGlyphs">60%</text>
<text x="13.4" y="132.44" textLength="8.30" lengthAdjust="spacingAndGlyphs">70%</text>
<text x="13.4" y="140.05" textLength="8.30" lengthAdjust="spacingAndGlyphs">80%</text>
<text x="13.4" y="147.66" textLength="8.30" lengthAdjust="spacingAndGlyphs">90%</text>
<text x="13.4" y="155.27" textLength="10.73" lengthAdjust="spacingAndGlyphs">100%</text>
</g>
<rect x="485.0" y="88.9" width="1.2" height="105.0" fill="#000"/>
<rect x="485.0" y="196.8" width="1.2" height="45.0" fill="#000"/>
<rect x="485.0" y="244.9" width="1.2" height="11.8" fill="#000"/>
<rect x="485.0" y="260.1" width="1.2" height="35.8" fill="#000"/>
<rect x="485.0" y="298.6" width="1.2" height="20.0" fill="#000"/>
<text x="493.0" y="144.3" font-size="7.7" fill="#141414" stroke="#141414" stroke-width="0.25" textLength="53.7" lengthAdjust="spacingAndGlyphs">unclassified PMV</text>
<g font-size="7.7" fill="#141414" stroke="#141414" stroke-width="0.3">
<text x="493.0" y="221.7" textLength="38.1" lengthAdjust="spacingAndGlyphs">Jeilongvirus</text>
<text x="493.0" y="253.0" textLength="37.8" lengthAdjust="spacingAndGlyphs">Henipavirus</text>
<text x="493.0" y="280.1" textLength="38.7" lengthAdjust="spacingAndGlyphs">Morbillivirus</text>
<text x="493.0" y="311.2" textLength="38.7" lengthAdjust="spacingAndGlyphs">Respirovirus</text>
</g>
</svg>
</body></html>
